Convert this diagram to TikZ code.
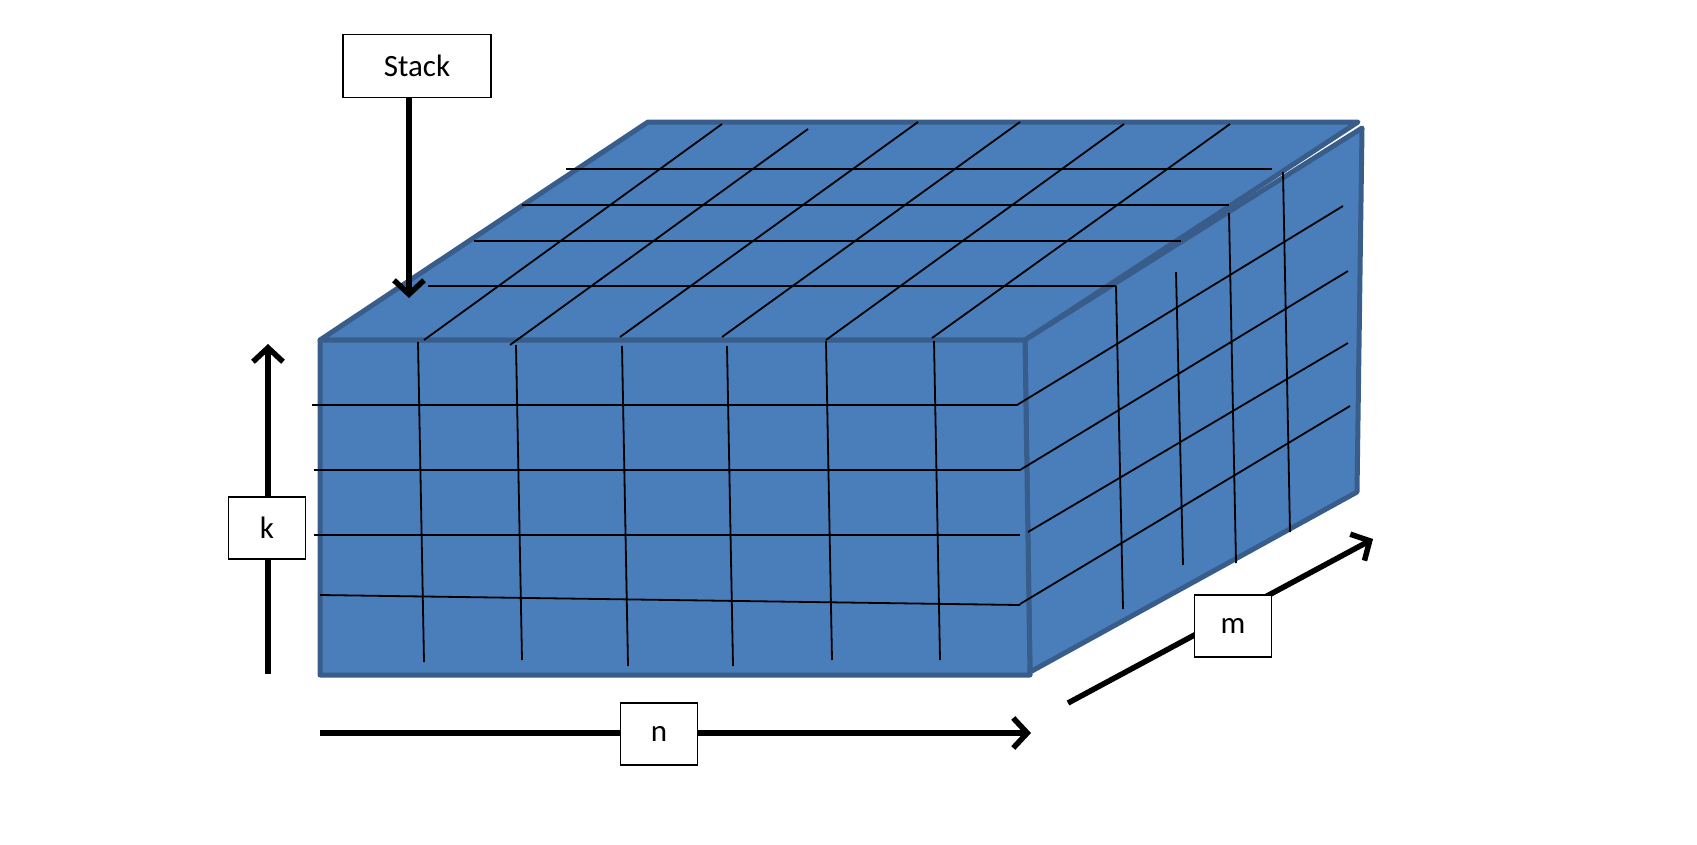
\documentclass[tikz,border=0pt]{standalone}
\usepackage{fontspec}
\setmainfont{Carlito}
\usetikzlibrary{arrows.meta}
\definecolor{cubefill}{HTML}{4A7EBB}
\definecolor{cubeedge}{HTML}{385D8A}
\begin{document}
\begin{tikzpicture}[x=1pt,y=-1pt,
  face/.style={fill=cubefill,draw=cubeedge,line width=5pt,line join=round},
  grid/.style={black,line width=1.8pt},
  lbl/.style={draw=black,fill=white,line width=1.5pt,minimum width=77pt,minimum height=62pt,inner sep=0pt,font=\fontsize{31}{36}\selectfont},
  dimarrow/.style={line width=5.5pt,-{Straight Barb[length=14pt,width=30pt,line width=5.5pt]}}]
\useasboundingbox (0,0) rectangle (1697,844);
% faces
\draw[face] (320,340) -- (648,122) -- (1358,122) -- (1025,340) -- cycle;
\draw[face] (1025,340) -- (1362,128) -- (1357,492) -- (1030,672) -- cycle;
\draw[face] (320,340) -- (1025,340) -- (1030,675) -- (320,675) -- cycle;
% front grid
\foreach \a/\b/\c/\d in {312/405/1017/405, 314/470/1020/470, 314/535/1020/535, 320/595/1020/605,
  418/342/424/662, 516/345/522/660, 622/346/628/666, 727/346/733/666, 826/341/832/660, 934/341/940/660}
  \draw[grid] (\a,\b) -- (\c,\d);
% top grid
\foreach \a/\b/\c/\d in {566/169/1272/169, 522/205/1229/205, 474/241/1181/241, 428/286/1116/286,
  424/340/722/124, 510/345/808/129, 620/337/918/122, 722/337/1020/122, 826/340/1124/124, 932/338/1230/124}
  \draw[grid] (\a,\b) -- (\c,\d);
% right grid
\foreach \a/\b/\c/\d in {1017/405/1343/206, 1020/470/1348/271, 1028/532/1348/343, 1020/604/1350/406,
  1116/286/1123/609, 1176/272/1183/565, 1229/213/1236/563, 1283/172/1290/532}
  \draw[grid] (\a,\b) -- (\c,\d);
% labels and arrows
\node[lbl,minimum width=148pt,minimum height=63pt] (stack) at (417,66) {Stack};
\coordinate (stackend) at (409,298);
\draw[dimarrow] (stack.south -| stackend) -- (stackend);
\coordinate (k0) at (268,674); \coordinate (k1) at (268,344);
\draw[dimarrow] (k0) -- (k1);
\node[lbl] (k) at (267,528) {k};
\coordinate (n0) at (320,733); \coordinate (n1) at (1031,733);
\draw[dimarrow] (n0) -- (n1);
\node[lbl] (n) at (659,734) {n};
\coordinate (m0) at (1068,703); \coordinate (m1) at (1373,539);
\draw[dimarrow] (m0) -- (m1);
\node[lbl] (m) at (1233,626) {m};
\end{tikzpicture}
\end{document}
